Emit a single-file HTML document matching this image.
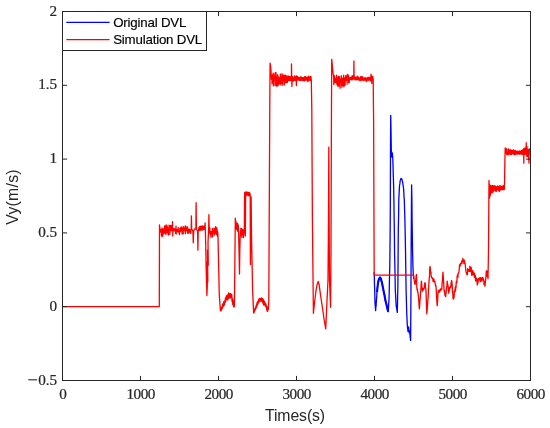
<!DOCTYPE html>
<html><head><meta charset="utf-8"><style>
html,body{margin:0;padding:0;background:#fff;}
body{width:550px;height:428px;overflow:hidden;}
svg{display:block;}
.tk{font-family:"Liberation Serif",serif;font-size:15.2px;letter-spacing:-0.5px;fill:#262626;stroke:#262626;stroke-width:0.22px;}
.lb{font-family:"Liberation Sans",sans-serif;font-size:15.8px;fill:#262626;}
.lg{font-family:"Liberation Sans",sans-serif;font-size:13.3px;letter-spacing:-0.2px;fill:#000;stroke:#000;stroke-width:0.15px;}
</style></head><body>
<svg width="550" height="428" viewBox="0 0 550 428">
<rect width="550" height="428" fill="#fff"/>
<g fill="none" stroke-linejoin="round" stroke-linecap="butt">
<path d="M374.2 272.0L374.5 285.0L374.8 294.0L375.0 303.0L375.3 306.7L375.6 310.6L375.6 310.6L375.8 307.6L376.1 305.7L376.3 302.0L376.5 298.9L376.8 295.6L377.0 292.0L377.2 291.6L377.4 287.6L377.6 285.8L377.8 285.1L378.0 283.0L378.2 281.0L378.4 282.3L378.7 279.6L378.9 279.0L379.1 278.5L379.3 278.2L379.5 279.0L379.7 279.0L379.9 277.5L380.1 278.2L380.4 277.1L380.6 277.8L380.8 278.5L381.0 279.8L381.2 279.1L381.4 281.7L381.6 282.3L381.8 282.0L382.0 282.2L382.2 283.6L382.4 284.2L382.6 286.6L382.8 287.0L383.0 286.7L383.2 289.5L383.4 288.8L383.6 292.0L383.8 292.0L384.0 293.1L384.2 294.2L384.4 293.9L384.6 294.7L384.8 297.0L385.0 297.6L385.2 300.4L385.4 300.3L385.6 302.0L385.8 302.0L386.0 301.6L386.2 302.5L386.4 303.1L386.6 305.8L386.8 306.0L387.0 306.0L387.2 307.1L387.4 309.1L387.6 309.5L387.9 311.1L388.2 311.7L388.2 311.7L388.5 307.6L388.7 303.9L389.0 300.0L389.3 288.1L389.5 276.7L389.8 265.0L390.1 237.4L390.3 210.0L390.5 150.0L390.7 115.3L391.0 130.0L391.3 150.0L391.6 153.4L391.8 157.0L392.1 154.7L392.3 153.0L392.6 155.8L392.8 159.0L393.1 167.4L393.3 175.8L393.6 185.0L393.9 199.8L394.1 215.0L394.4 235.1L394.6 255.0L395.0 272.3L395.3 290.0L395.6 294.9L395.9 301.0L396.2 306.0L396.5 307.6L396.8 309.2L397.0 310.6L397.3 312.4L397.6 299.1L397.9 285.0L398.3 230.0L398.6 215.3L398.8 200.0L399.1 193.1L399.5 186.0L399.9 183.4L400.2 180.5L400.5 180.0L400.7 179.1L401.0 178.4L401.3 178.5L401.5 178.7L401.8 179.0L402.1 180.0L402.3 181.0L402.6 182.0L402.9 184.0L403.2 186.0L403.5 188.0L403.8 192.3L404.0 196.4L404.3 200.0L404.6 209.7L404.9 220.0L405.2 234.5L405.5 250.0L405.8 269.8L406.1 290.0L406.4 300.5L406.7 312.0L407.0 318.8L407.3 325.0L407.6 328.3L408.0 331.3L408.3 328.9L408.6 327.0L408.9 329.7L409.2 333.0L409.5 332.4L409.8 331.0L410.2 337.0L410.6 340.4L410.9 300.0L411.2 240.0L411.6 185.0L411.9 200.0L412.1 220.3L412.4 240.0L412.6 252.7L412.9 265.0L413.3 274.9L413.6 277.1L413.8 279.0" stroke="#0000ff" stroke-width="1.3"/>
<path d="M377.0 292.0L378.0 283.0L378.9 279.0L379.9 277.5L380.8 278.5L381.8 282.0L382.8 287.0L383.8 292.0L384.8 297.0L385.8 302.0L386.8 306.0L387.6 309.5L388.2 311.7" stroke="#0000ff" stroke-width="2.1"/>
<path d="M62.0 306.6L159.3 306.6L159.5 224.8L159.9 229.0L160.0 229.9L160.2 232.2L160.4 229.6L160.6 231.0L160.8 229.3L161.0 230.7L161.2 229.7L161.4 231.1L161.4 235.8L161.5 230.0L161.6 230.0L161.8 232.7L161.8 234.4L161.9 232.2L162.0 232.9L162.0 227.8L162.1 233.4L162.2 235.3L162.1 234.5L162.2 236.6L162.3 234.5L162.4 233.1L162.6 234.4L162.8 232.2L162.8 235.7L162.9 233.0L163.0 233.7L163.2 231.4L163.2 228.8L163.3 232.0L163.4 232.4L163.6 229.3L163.8 231.1L164.0 228.8L164.0 233.7L164.1 229.1L164.2 229.7L164.4 227.6L164.6 229.0L164.6 225.9L164.7 227.9L164.8 226.6L165.0 228.2L165.0 226.0L165.1 227.8L165.2 226.6L165.2 233.0L165.3 227.8L165.4 228.2L165.6 227.2L165.8 228.0L166.0 227.0L166.0 234.5L166.1 227.5L166.2 228.2L166.1 227.6L166.2 225.0L166.3 227.6L166.4 227.3L166.6 229.2L166.8 227.9L167.0 229.0L167.0 232.7L167.1 228.5L167.2 228.1L167.2 225.8L167.3 228.7L167.4 229.3L167.6 228.3L167.8 230.2L168.0 228.2L168.2 229.5L168.2 234.6L168.3 229.1L168.4 228.6L168.4 235.0L168.5 229.1L168.6 229.6L168.8 228.1L169.0 230.0L169.0 225.1L169.1 229.3L169.2 228.9L169.4 229.9L169.6 228.6L169.6 225.6L169.7 229.4L169.8 229.8L169.8 234.6L169.9 229.5L170.0 228.7L170.0 232.6L170.1 229.5L170.2 229.8L170.2 227.2L170.3 229.6L170.4 229.2L170.6 230.4L170.6 225.3L170.7 229.6L170.8 228.5L171.0 230.6L171.2 229.4L171.2 225.3L171.3 229.8L171.4 230.7L171.6 229.5L171.8 230.5L172.0 229.3L172.2 230.1L172.4 228.9L172.4 229.8L172.5 221.6L172.6 229.8L172.6 230.7L172.8 228.8L172.7 229.8L172.8 236.0L172.9 229.8L173.0 230.4L173.2 228.7L173.4 230.4L173.6 228.7L173.8 230.6L174.0 229.0L174.2 230.1L174.4 228.7L174.6 230.8L174.8 229.0L175.0 230.6L175.2 229.7L175.4 230.3L175.6 229.4L175.6 233.6L175.7 230.1L175.8 231.0L176.0 229.7L176.0 226.0L176.1 230.2L175.9 230.2L176.0 226.2L176.1 230.2L176.2 230.7L176.2 234.0L176.3 230.3L176.4 229.7L176.6 230.9L176.8 230.0L177.0 231.4L177.2 229.4L177.4 231.4L177.6 230.3L177.8 231.8L178.0 230.0L178.2 231.4L178.2 227.5L178.3 230.9L178.4 230.6L178.6 231.9L178.8 230.7L179.0 232.4L179.2 231.1L179.2 233.3L179.3 231.4L179.4 232.3L179.4 231.5L179.5 234.5L179.6 231.5L179.6 230.9L179.8 231.4L179.8 228.5L179.9 231.2L180.0 230.0L180.0 228.3L180.1 231.0L180.2 231.5L180.4 229.7L180.6 231.3L180.8 229.2L180.8 227.4L180.9 230.1L181.0 230.1L181.2 228.8L181.2 226.8L181.3 229.7L181.4 230.3L181.6 228.4L181.8 229.6L182.0 227.9L182.0 233.8L182.1 229.0L182.2 229.3L182.4 228.2L182.6 229.6L182.8 228.0L183.0 230.1L183.2 228.2L183.2 234.1L183.3 229.0L183.1 229.0L183.2 226.5L183.3 229.0L183.4 229.8L183.6 228.6L183.8 230.1L184.0 228.3L184.2 229.5L184.4 228.0L184.6 229.4L184.8 228.4L185.0 229.8L185.0 231.8L185.1 229.2L185.2 228.3L185.2 225.8L185.3 229.2L185.4 229.6L185.4 233.8L185.5 229.3L185.6 228.3L185.8 230.4L186.0 228.3L186.0 226.3L186.1 229.4L186.2 229.9L186.4 228.7L186.6 230.5L186.8 229.1L187.0 230.6L187.2 229.3L187.4 230.8L187.4 229.7L187.5 227.0L187.6 229.7L187.6 229.0L187.6 233.3L187.7 229.8L187.8 230.6L187.8 233.3L187.9 229.8L188.0 229.3L188.2 230.6L188.4 229.1L188.4 233.1L188.5 229.9L188.6 231.0L188.8 229.5L189.0 230.3L189.2 229.1L189.4 230.7L189.6 229.7L189.8 231.2L189.8 232.3L189.9 230.1L190.0 229.8L190.0 233.0L190.1 230.2L190.2 230.7L190.4 229.9L190.6 230.6L190.8 229.9L190.8 233.3L190.9 230.3L191.2 230.0L191.4 216.0L191.7 229.0L192.9 231.0L193.3 242.8L193.7 231.0L194.7 228.8L195.9 229.0L196.1 202.6L196.4 229.0L197.6 231.0L197.9 250.0L198.2 231.0L198.8 229.0L199.0 227.4L199.2 230.3L199.4 227.6L199.6 230.3L199.8 226.5L200.0 230.5L200.2 230.3L200.4 229.6L200.6 226.2L200.8 226.7L201.0 227.1L201.2 229.4L201.4 226.1L201.6 230.0L201.8 226.7L202.0 228.8L202.2 230.1L202.4 228.9L202.6 226.0L202.8 229.6L203.0 226.9L203.2 228.5L203.4 226.1L203.6 228.5L203.8 229.5L204.0 229.4L204.2 227.1L204.4 228.9L204.6 225.8L204.8 228.3L205.1 223.0L205.3 229.0L205.6 240.0L206.2 270.0L206.9 295.5L207.3 285.0L207.0 262.0L207.8 282.0L207.5 250.0L208.3 265.0L208.0 242.7L208.7 228.0L208.9 214.7L209.2 228.0L209.4 230.6L209.6 233.2L209.7 227.5L209.7 231.5L209.8 230.9L209.8 228.1L209.9 231.9L210.0 232.8L210.2 231.1L210.4 235.0L210.6 232.4L210.8 234.6L211.0 231.6L211.0 237.5L211.1 233.3L211.2 234.9L211.4 232.2L211.6 234.9L211.8 231.4L212.0 234.0L212.2 232.3L212.4 233.8L212.4 228.5L212.5 232.6L212.6 231.0L212.6 236.9L212.7 232.4L212.8 233.1L213.0 230.7L213.2 232.8L213.4 230.2L213.6 233.0L213.8 230.8L214.0 232.6L214.0 228.2L214.1 231.0L214.2 230.1L214.4 231.2L214.4 235.2L214.5 230.6L214.6 229.2L214.8 231.5L215.0 228.6L215.2 230.3L215.4 228.0L215.4 233.5L215.5 229.6L215.6 230.7L215.6 226.6L215.7 229.5L215.8 229.0L216.0 230.6L216.2 228.1L216.4 230.4L216.6 228.4L216.6 234.5L216.7 229.7L216.8 230.6L216.8 227.6L216.9 230.2L217.0 229.0L217.2 232.9L217.4 231.1L217.6 233.9L217.6 236.4L217.7 232.0L218.0 236.0L218.5 260.0L219.3 295.0L220.4 310.8L220.6 310.1L220.8 310.9L221.0 310.8L221.2 310.5L221.4 307.7L221.6 309.1L221.8 306.8L222.0 308.7L222.2 305.9L222.4 308.2L222.6 304.1L222.8 306.9L223.0 304.3L223.2 305.5L223.4 303.1L223.6 306.1L223.8 301.7L224.0 305.4L224.2 305.1L224.4 304.9L224.6 301.3L224.8 303.0L225.0 300.4L225.2 301.3L225.4 298.1L225.6 301.9L225.8 297.8L226.0 300.3L226.2 296.1L226.4 299.2L226.6 295.8L226.8 299.5L227.0 295.1L227.2 296.4L227.4 295.2L227.6 299.9L227.8 295.2L228.0 299.3L228.2 295.4L228.4 297.7L228.6 292.9L228.8 296.7L229.0 294.8L229.2 298.0L229.4 294.1L229.6 296.9L229.8 293.7L230.0 297.8L230.2 298.0L230.4 293.7L230.6 293.7L230.8 293.7L231.0 294.1L231.2 297.7L231.4 294.7L231.6 297.2L231.8 294.7L232.0 301.2L232.2 297.9L232.4 302.2L232.6 302.0L232.8 304.6L233.0 299.6L233.2 304.0L233.4 301.3L233.6 306.6L233.8 303.5L234.0 307.1L234.4 306.0L234.9 260.0L235.3 218.2L235.7 222.0L235.9 221.3L236.1 228.9L236.3 223.4L236.5 229.1L236.7 223.3L236.9 229.8L237.1 224.2L237.3 230.1L237.5 223.2L237.7 231.3L237.9 224.3L238.1 231.1L238.3 225.5L238.7 236.0L239.0 250.0L239.5 274.0L239.8 250.0L240.2 236.0L240.4 231.0L240.6 235.0L240.8 231.1L240.8 228.4L240.9 232.1L241.0 235.1L241.0 228.6L241.1 232.2L241.2 230.1L241.4 233.3L241.4 228.3L241.5 232.3L241.6 229.6L241.6 228.8L241.7 232.4L241.8 233.6L241.8 237.3L241.9 232.4L242.0 231.4L242.0 228.9L242.1 232.5L242.2 235.0L242.4 230.7L242.6 234.4L242.8 230.0L243.0 234.2L243.2 229.9L243.4 234.0L243.4 237.7L243.5 232.8L243.6 231.4L243.8 234.8L244.0 230.0L244.3 232.0L244.5 200.0L244.7 192.5L245.0 225.0L245.3 236.0L245.6 200.0L245.8 192.0L246.0 192.6L246.2 194.9L246.4 191.9L246.6 195.1L246.8 192.8L247.0 193.8L247.2 192.9L247.4 195.1L247.6 192.2L247.8 195.1L248.0 193.1L248.2 195.4L248.4 192.8L248.6 195.8L248.8 192.4L249.0 195.6L249.2 192.4L249.4 195.7L249.6 192.9L249.8 193.6L250.0 193.3L250.2 196.0L250.4 264.5L250.7 230.0L251.1 197.0L251.6 240.0L252.6 290.0L253.6 312.9L253.8 311.7L254.0 312.8L254.2 310.3L254.4 311.6L254.6 310.8L254.8 310.2L255.0 308.1L255.2 310.0L255.4 309.5L255.6 308.6L255.8 306.6L256.0 308.3L256.2 305.5L256.4 307.5L256.6 304.7L256.8 305.2L257.0 302.7L257.2 305.7L257.4 302.6L257.6 304.4L257.8 301.5L258.0 303.7L258.2 300.8L258.4 301.9L258.6 299.6L258.8 302.7L259.0 298.8L259.2 299.4L259.4 298.5L259.6 299.8L259.8 300.4L260.0 301.0L260.2 298.7L260.4 300.6L260.6 298.9L260.8 301.3L261.0 298.1L261.2 300.2L261.4 298.9L261.6 301.1L261.8 298.0L262.0 299.1L262.2 298.3L262.4 301.8L262.6 300.0L262.8 303.1L263.0 299.2L263.2 303.2L263.4 299.7L263.6 304.6L263.8 301.1L264.0 305.2L264.2 301.1L264.4 302.4L264.6 301.5L264.8 302.5L265.0 302.8L265.2 305.0L265.4 305.5L265.6 306.3L265.8 304.0L266.0 304.1L266.2 306.0L266.4 308.1L266.6 306.3L266.8 309.9L267.0 307.4L267.2 311.3L267.4 307.4L267.6 311.3L267.8 307.3L268.0 310.0L268.2 308.0L268.4 309.3L268.8 300.0L269.3 200.0L269.8 100.0L270.1 63.2L270.6 66.0L270.9 70.0L271.2 75.2L271.4 79.3L271.6 75.1L271.8 79.1L272.0 75.9L272.0 83.7L272.1 77.4L272.2 80.0L272.4 75.0L272.4 82.5L272.5 77.6L272.6 78.6L272.8 75.9L273.0 78.6L273.2 76.1L273.2 73.1L273.3 77.9L273.4 79.2L273.4 85.8L273.5 78.0L273.6 76.0L273.8 79.8L274.0 77.2L274.2 80.3L274.4 77.7L274.6 79.4L274.8 76.1L274.8 73.9L274.9 78.7L275.0 80.0L275.0 85.5L275.1 78.8L275.2 77.5L275.4 80.5L275.4 72.4L275.5 78.8L275.6 77.7L275.8 81.1L276.0 77.5L276.0 72.7L276.1 78.8L276.2 81.0L276.2 83.9L276.3 78.8L276.4 77.5L276.4 86.1L276.5 78.9L276.6 79.7L276.8 78.0L277.0 79.4L277.0 83.8L277.1 78.9L277.2 76.7L277.4 80.7L277.4 85.9L277.5 78.9L277.6 77.6L277.6 74.8L277.7 78.9L277.8 80.7L277.8 75.0L277.9 78.9L278.0 77.2L278.2 80.1L278.4 76.8L278.6 79.8L278.6 85.0L278.7 78.9L278.8 78.0L279.0 79.6L279.2 77.7L279.4 80.4L279.4 83.7L279.5 79.0L279.6 78.1L279.8 79.6L279.8 83.5L279.9 79.0L280.0 78.1L280.2 79.8L280.4 76.8L280.4 74.1L280.5 79.0L280.6 80.1L280.8 77.7L280.8 84.9L280.9 79.0L281.0 80.1L281.2 77.2L281.4 80.3L281.6 77.4L281.8 81.1L281.8 83.3L281.9 79.0L282.0 77.5L282.0 73.7L282.1 79.0L282.2 80.8L282.4 78.2L282.6 79.8L282.8 77.7L282.8 85.3L282.9 79.0L283.0 80.4L283.2 78.3L283.2 74.8L283.3 79.0L283.4 80.2L283.6 78.1L283.8 79.5L284.0 77.6L284.2 80.7L284.2 75.5L284.3 79.0L284.4 78.5L284.4 84.8L284.5 79.0L284.6 79.8L284.8 78.4L285.0 79.7L285.0 75.1L285.1 79.0L285.2 77.2L285.4 79.5L285.6 78.0L285.6 82.6L285.7 79.0L285.8 80.2L286.0 77.0L286.0 75.3L286.1 79.0L286.2 79.5L286.2 82.5L286.3 79.0L286.4 78.0L286.4 76.3L286.5 79.0L286.6 79.4L286.8 77.4L287.0 79.7L287.0 82.1L287.1 79.0L287.2 77.9L287.4 79.9L287.4 82.5L287.5 78.9L287.6 78.5L287.8 80.3L287.8 75.8L287.9 78.9L288.0 77.3L288.2 80.6L288.4 78.0L288.6 79.8L288.8 78.2L288.8 76.2L288.9 78.9L289.0 79.5L289.0 76.3L289.1 78.9L289.2 78.1L289.4 80.6L289.6 77.3L289.6 76.7L289.7 78.9L289.8 80.1L290.0 78.1L290.0 76.7L290.1 78.8L290.2 79.7L290.4 77.5L290.4 76.8L290.5 78.8L290.6 80.4L290.8 77.5L291.0 80.3L291.0 76.7L291.1 78.8L291.2 78.4L291.4 78.0L291.5 63.9L291.7 78.0L291.9 86.5L292.2 79.0L292.4 77.9L292.6 79.8L292.6 76.4L292.7 78.7L292.8 78.3L292.8 80.8L292.9 78.7L293.0 79.5L293.2 77.6L293.2 81.0L293.3 78.7L293.4 80.1L293.6 78.2L293.8 79.5L294.0 77.9L294.2 80.3L294.4 78.0L294.6 79.4L294.6 75.9L294.7 78.8L294.8 77.7L295.0 80.4L295.2 77.5L295.4 79.4L295.6 77.5L295.8 80.3L296.0 77.6L296.0 76.1L296.1 78.8L296.2 79.2L296.4 78.0L296.3 78.8L296.4 85.5L296.5 78.8L296.6 79.5L296.6 76.0L296.7 78.8L296.8 78.2L297.0 79.5L297.0 76.3L297.1 78.8L297.2 78.3L297.4 80.1L297.6 77.5L297.6 76.5L297.7 78.8L297.8 79.3L298.0 78.4L298.2 80.0L298.4 78.1L298.6 79.2L298.8 77.3L299.0 79.6L299.2 78.3L299.4 80.1L299.6 78.1L299.8 80.5L300.0 77.7L300.2 79.8L300.4 78.2L300.6 80.4L300.8 77.3L300.8 76.6L300.9 78.9L301.0 79.6L301.2 77.2L301.2 76.8L301.3 78.9L301.4 80.1L301.6 78.5L301.8 79.7L302.0 77.8L302.2 79.9L302.4 77.7L302.6 80.5L302.8 78.0L303.0 79.6L303.2 77.5L303.4 80.5L303.6 78.2L303.8 79.8L304.0 77.9L304.2 80.1L304.4 78.1L304.6 79.6L304.6 80.9L304.7 78.8L304.8 78.3L304.8 76.5L304.9 78.8L305.0 79.3L305.2 77.4L305.4 79.3L305.6 77.2L305.6 76.6L305.7 78.7L305.8 80.2L306.0 77.4L306.2 80.0L306.4 77.9L306.6 80.2L306.8 77.6L307.0 80.0L307.2 77.2L307.4 79.2L307.6 77.4L307.8 79.3L307.8 81.5L307.9 78.7L308.0 77.0L308.0 81.1L308.1 78.7L308.2 79.9L308.4 77.1L308.6 79.1L308.8 78.2L308.8 76.1L308.9 78.7L309.0 80.3L309.0 76.6L309.1 78.7L309.2 77.6L309.4 79.5L309.6 77.2L309.8 79.4L310.0 77.4L310.2 80.3L310.4 77.3L310.6 80.0L310.6 76.5L310.7 78.6L310.8 77.0L311.0 79.6L311.0 76.6L311.1 78.6L311.3 80.0L311.8 110.0L312.4 220.0L313.4 313.3L314.5 303.0L315.8 292.0L317.0 285.0L318.2 281.4L319.2 285.0L320.5 295.0L322.5 308.0L324.2 320.0L325.7 328.8L326.8 305.0L328.0 280.0L328.5 220.0L328.8 147.1L329.0 200.0L329.5 280.0L330.6 307.3L331.0 250.0L331.3 150.0L331.7 59.3L332.1 63.0L332.6 69.0L333.2 74.5L333.7 77.4L333.8 84.6L333.8 79.5L333.9 80.8L334.1 78.0L334.1 75.7L334.2 79.6L334.3 82.5L334.3 75.6L334.4 79.6L334.5 77.9L334.7 80.9L334.9 78.0L335.1 82.4L335.3 79.1L335.5 82.1L335.7 78.7L335.9 82.7L336.1 78.4L336.3 82.4L336.3 76.1L336.4 80.1L336.5 79.3L336.5 75.1L336.6 80.2L336.7 81.5L336.9 79.6L336.9 84.6L337.0 80.2L337.1 82.1L337.3 78.0L337.5 81.9L337.7 78.0L337.9 83.2L337.9 86.3L338.0 80.5L338.1 78.4L338.1 85.0L338.2 80.5L338.3 82.3L338.3 76.1L338.4 80.5L338.5 78.5L338.7 81.8L338.9 79.1L338.9 86.1L339.0 80.4L339.1 81.1L339.1 85.6L339.2 80.4L339.3 78.3L339.5 82.3L339.5 76.6L339.6 80.4L339.7 79.1L339.9 80.9L340.1 79.0L340.1 88.2L340.2 80.3L340.3 81.2L340.5 79.1L340.7 81.0L340.9 78.9L341.1 81.2L341.3 78.3L341.3 75.7L341.4 80.2L341.5 82.6L341.5 76.3L341.6 80.2L341.7 77.7L341.7 85.5L341.8 80.2L341.9 81.9L341.9 87.3L342.0 80.2L342.1 78.0L342.3 81.6L342.5 79.4L342.7 81.9L342.9 78.3L343.1 81.3L343.1 85.7L343.2 80.1L343.3 78.6L343.3 85.2L343.4 80.1L343.5 81.6L343.7 77.8L343.7 75.2L343.8 80.0L343.9 81.8L343.9 86.7L344.0 80.0L344.1 78.8L344.3 80.6L344.5 78.5L344.5 85.4L344.6 79.9L344.7 81.9L344.9 77.9L345.1 81.9L345.1 85.2L345.2 79.7L345.3 78.7L345.5 80.8L345.7 77.6L345.7 75.6L345.8 79.5L345.9 80.0L346.1 77.6L346.3 80.1L346.5 77.4L346.7 80.5L346.9 77.4L346.9 76.1L347.0 79.1L347.1 79.5L347.1 84.2L347.2 79.1L347.3 78.4L347.3 74.5L347.4 79.0L347.5 80.4L347.7 78.4L347.9 79.6L348.1 77.0L348.3 79.5L348.5 77.7L348.5 75.1L348.6 78.7L348.7 80.1L348.7 82.9L348.8 78.7L348.9 78.0L348.9 82.3L349.0 78.7L349.1 79.3L349.1 82.5L349.2 78.7L349.3 77.7L349.3 82.5L349.4 78.7L349.5 80.2L349.7 77.8L349.9 79.2L350.1 77.6L350.3 79.5L350.5 77.4L350.7 79.4L350.9 77.8L351.1 79.3L351.3 77.7L351.5 79.8L351.7 76.7L351.9 79.8L352.1 77.4L352.1 75.8L352.2 78.4L352.3 79.3L352.5 77.6L352.7 79.6L352.7 75.9L352.8 78.3L352.9 76.7L352.9 75.7L353.0 78.3L353.1 79.7L353.3 77.1L353.5 78.7L353.8 78.0L353.9 61.0L354.1 78.0L354.4 77.8L354.6 79.0L354.8 77.1L355.0 79.7L355.2 77.9L355.4 79.2L355.6 77.4L355.8 79.5L356.0 76.8L356.2 79.9L356.4 77.0L356.6 79.6L356.8 78.0L357.0 79.2L357.2 77.8L357.4 79.0L357.6 77.9L357.8 79.7L357.8 76.1L357.9 78.4L358.0 77.3L358.2 79.1L358.4 77.2L358.6 79.0L358.8 78.2L359.0 80.1L359.2 78.2L359.4 79.6L359.6 78.1L359.8 79.3L360.0 78.1L360.2 79.1L360.2 80.7L360.3 78.6L360.4 77.3L360.6 79.5L360.6 76.7L360.7 78.7L360.8 77.7L361.0 80.1L361.0 80.7L361.1 78.7L361.2 77.2L361.4 79.6L361.6 77.4L361.8 79.7L361.8 76.7L361.9 78.8L362.0 77.6L362.2 79.4L362.4 78.6L362.4 76.7L362.5 78.9L362.6 80.1L362.8 78.6L363.0 79.4L363.2 78.6L363.4 79.8L363.6 77.9L363.8 80.6L364.0 78.2L364.2 80.0L364.4 77.9L364.6 80.0L364.8 78.3L365.0 80.1L365.2 78.9L365.4 79.7L365.6 78.3L365.8 80.0L365.8 77.5L365.9 79.4L366.0 78.5L366.2 80.6L366.4 79.0L366.6 80.8L366.6 81.6L366.7 79.3L366.8 78.5L367.0 80.0L367.2 78.1L367.4 79.8L367.6 78.1L367.8 79.4L367.8 77.4L367.9 79.0L368.0 77.7L368.2 80.4L368.4 78.2L368.6 79.3L368.8 77.5L369.0 79.5L369.2 77.4L369.4 79.1L369.6 78.3L369.8 79.7L370.0 77.5L370.0 80.9L370.1 78.6L370.2 79.7L370.2 80.7L370.3 78.6L370.4 77.4L370.6 80.1L370.6 80.7L370.7 78.6L370.8 77.3L371.0 79.5L370.9 78.6L371.0 74.2L371.1 78.6L371.2 78.1L371.4 79.9L371.4 76.2L371.5 78.6L371.6 77.4L371.8 79.1L371.8 76.0L371.9 78.6L371.7 78.6L371.8 83.5L371.9 78.6L372.0 77.6L372.2 79.2L372.4 77.6L372.6 79.1L372.8 77.7L372.8 76.3L372.9 78.6L373.2 79.0L373.6 120.0L373.9 200.0L374.2 275.1L413.6 275.1L413.6 275.1L414.0 278.6L414.3 280.7L414.6 283.1L414.8 282.9L415.1 284.4L415.4 283.1L415.7 280.0L415.9 279.5L416.2 275.0L416.5 274.5L416.8 287.6L417.1 289.8L417.3 289.0L417.6 291.9L417.8 291.7L418.1 294.2L418.4 296.6L418.6 298.8L418.9 302.4L419.1 306.3L419.4 308.9L419.7 305.3L419.9 301.1L420.2 298.2L420.5 294.2L420.8 291.1L421.1 284.9L421.4 281.1L421.7 284.2L421.9 286.5L422.2 289.3L422.5 291.1L422.7 288.6L423.0 290.1L423.3 288.3L423.5 288.4L423.8 289.3L424.1 288.5L424.4 286.3L424.7 283.4L425.0 282.7L425.2 283.1L425.5 288.0L425.8 288.4L426.0 290.9L426.3 299.4L426.5 305.9L426.8 313.8L427.1 310.6L427.4 306.7L427.6 304.6L427.9 299.1L428.2 296.7L428.4 291.1L428.7 287.3L428.9 282.4L429.2 279.5L429.5 276.1L429.7 269.3L430.0 266.4L430.3 268.1L430.6 272.6L430.9 272.0L431.2 276.2L431.5 277.5L431.7 277.6L432.0 278.0L432.3 277.8L432.5 277.6L432.8 279.5L433.1 281.5L433.4 281.0L433.6 281.5L433.9 279.0L434.2 281.9L434.5 281.1L434.8 281.1L435.0 282.1L435.3 284.5L435.6 285.9L435.8 285.1L436.1 287.6L436.4 293.1L436.6 296.9L436.9 302.6L437.2 305.6L437.4 303.5L437.7 299.0L437.9 294.1L438.2 290.9L438.4 292.6L438.7 291.7L438.9 290.1L439.2 292.3L439.4 291.8L439.7 290.0L439.9 289.9L440.2 290.9L440.5 288.8L440.7 290.5L441.0 289.2L441.3 289.0L441.5 288.6L441.8 289.3L442.1 283.6L442.4 280.6L442.7 275.5L443.0 272.1L443.2 275.6L443.5 279.9L443.8 285.0L444.0 289.3L444.3 291.9L444.5 290.4L444.8 294.3L445.1 295.5L445.3 295.8L445.6 296.6L445.6 296.6L445.9 294.3L446.1 292.8L446.4 289.1L446.7 287.2L446.9 286.2L447.2 281.1L447.5 285.2L447.8 284.6L448.1 285.8L448.4 290.9L448.7 293.1L448.9 289.3L449.2 291.4L449.5 287.7L449.7 288.6L450.0 288.5L450.3 286.4L450.5 287.1L450.8 287.1L451.1 283.1L451.3 282.1L451.6 280.3L451.9 282.5L452.2 285.0L452.5 292.4L452.7 290.5L453.0 298.6L453.3 299.1L453.6 298.7L453.8 293.8L454.1 297.4L454.4 291.2L454.6 292.7L454.9 290.9L455.2 287.3L455.5 291.1L455.8 285.7L456.0 287.7L456.3 281.4L456.6 282.7L456.9 282.1L457.1 276.8L457.4 275.0L457.7 276.6L457.9 277.4L458.2 272.9L458.5 272.9L458.7 272.9L459.0 271.4L459.3 268.7L459.5 264.9L459.8 266.4L460.1 266.0L460.4 263.4L460.6 264.9L460.9 263.3L461.2 263.6L461.5 263.1L461.8 260.9L462.0 263.5L462.3 261.4L462.6 261.4L462.8 258.5L463.1 260.5L463.3 260.6L463.6 259.8L463.9 263.5L464.1 261.8L464.4 260.1L464.7 261.9L464.9 262.9L465.2 264.7L465.5 267.3L465.8 270.1L466.0 271.7L466.3 272.9L466.6 274.1L466.9 272.9L467.2 274.6L467.4 274.6L467.7 268.6L468.0 271.0L468.3 271.1L468.5 271.2L468.8 269.6L469.1 270.0L469.4 269.7L469.6 271.4L469.9 266.1L470.2 268.4L470.5 268.0L470.8 271.7L471.0 267.1L471.3 268.5L471.6 274.0L471.8 275.5L472.1 273.7L472.4 270.6L472.6 270.4L472.9 274.9L473.2 273.8L473.4 272.5L473.7 272.1L474.0 273.7L474.2 275.9L474.5 277.4L474.7 273.7L475.0 277.8L475.3 275.3L475.5 279.8L475.8 281.1L476.1 280.3L476.3 277.9L476.6 278.6L477.0 280.8L477.3 285.0L477.6 282.8L477.8 279.5L478.1 282.8L478.3 278.5L478.6 278.6L478.9 279.2L479.1 279.0L479.4 278.0L479.6 280.1L479.9 278.9L480.1 277.7L480.4 281.7L480.6 277.6L480.9 277.6L481.1 279.8L481.4 278.1L481.6 279.3L481.9 281.0L482.2 278.1L482.5 277.4L482.7 279.7L483.0 278.6L483.2 278.1L483.5 280.7L483.8 280.0L484.0 284.7L484.2 281.5L484.5 282.8L484.8 284.1L485.0 286.3L485.3 282.2L485.5 281.5L485.8 278.0L486.0 275.6L486.3 270.8L486.6 272.3L486.9 270.9L487.1 276.3L487.4 274.5L487.7 275.6L488.0 278.6L488.5 250.0L489.0 180.5L489.3 190.0L489.6 198.0L489.9 185.0L490.1 188.8L490.3 195.5L490.5 187.1L490.7 188.2L490.9 185.6L491.1 191.7L491.3 185.9L491.5 193.0L491.7 186.6L491.9 186.3L492.1 192.6L492.3 192.6L492.5 185.5L492.7 186.7L492.9 187.7L493.1 192.1L493.3 185.6L493.5 190.7L493.7 186.0L493.9 190.1L494.1 187.9L494.3 189.9L494.5 186.6L494.7 188.8L494.9 185.6L495.1 189.7L495.3 191.0L495.5 190.2L495.7 186.8L495.9 191.1L496.1 186.5L496.3 190.9L496.5 191.2L496.7 187.7L496.9 187.4L497.1 189.5L497.3 187.0L497.5 188.3L497.7 185.9L497.9 189.6L498.1 186.8L498.3 189.8L498.5 186.6L498.7 190.8L498.9 189.0L499.1 190.3L499.3 186.5L499.5 191.4L499.7 190.8L499.9 189.5L500.1 185.3L500.3 189.5L500.5 187.0L500.7 187.0L500.9 187.3L501.1 189.7L501.3 188.3L501.5 189.6L501.7 186.4L501.9 189.9L502.1 186.5L502.3 189.7L502.5 186.9L502.7 189.5L502.9 185.9L503.1 186.8L503.3 185.7L503.5 189.5L503.7 185.7L503.9 189.6L504.1 185.9L504.3 189.4L504.6 180.0L504.9 160.0L505.2 148.0L505.4 153.9L505.6 153.1L505.8 148.9L506.0 149.7L506.2 148.9L506.4 148.7L506.6 149.6L506.8 154.5L507.0 152.7L507.2 152.9L507.4 154.1L507.6 153.4L507.8 154.7L508.0 154.0L508.2 149.2L508.4 153.4L508.6 149.0L508.8 154.6L509.0 149.8L509.2 153.3L509.4 150.1L509.6 152.8L509.8 149.8L510.0 153.1L510.2 149.6L510.4 154.4L510.6 150.6L510.8 154.5L511.0 151.0L511.2 153.3L511.4 150.2L511.6 154.4L511.8 150.4L512.0 153.3L512.2 150.3L512.4 153.5L512.6 151.3L512.8 152.9L513.0 150.8L513.2 153.5L513.4 149.9L513.6 153.9L513.8 150.4L514.0 154.4L514.2 151.3L514.4 154.8L514.6 150.4L514.8 153.4L515.0 151.4L515.2 154.3L515.4 150.7L515.6 154.3L515.8 151.2L516.0 154.2L516.2 151.9L516.4 153.6L516.6 151.3L516.8 153.8L517.0 151.0L517.2 154.1L517.4 151.2L517.6 154.1L517.8 152.0L518.0 153.2L518.2 151.6L518.4 153.9L518.6 151.4L518.8 151.2L519.0 151.6L519.2 154.2L519.4 151.4L519.6 154.2L519.8 150.9L520.0 153.6L520.2 151.3L520.4 153.4L520.6 151.3L520.8 154.0L521.0 152.2L521.2 154.2L521.4 150.7L521.6 153.8L521.8 151.3L522.0 154.2L522.2 150.4L522.4 153.8L522.6 149.9L522.8 154.5L523.0 149.6L523.2 150.3L523.4 149.4L523.6 149.6L523.7 151.5L523.8 163.2L523.9 151.5L523.8 148.3L524.0 153.8L524.2 149.2L524.4 153.1L524.6 148.3L524.8 154.3L525.0 147.8L525.2 154.5L525.4 148.6L525.6 153.9L525.8 147.7L526.0 152.4L526.1 150.9L526.2 142.7L526.3 150.9L526.2 150.3L526.4 153.2L526.6 148.2L526.8 156.6L527.0 146.6L527.2 156.3L527.4 149.2L527.6 150.8L527.8 149.6L528.0 156.4L528.2 149.4L528.4 154.9L528.5 152.7L528.6 160.0L528.7 152.7L528.6 149.9L528.8 154.9L528.9 152.7L529.0 163.2L529.1 152.7L529.0 155.1L529.2 155.1L529.4 148.9L529.6 150.0L529.8 149.2L530.0 150.3" stroke="#ff0000" stroke-width="1.3"/>
</g>
<g fill="none" stroke="#262626" stroke-width="1">
<path d="M140.5 380.5V375.9M140.5 11.5V16.1M218.5 380.5V375.9M218.5 11.5V16.1M296.5 380.5V375.9M296.5 11.5V16.1M374.5 380.5V375.9M374.5 11.5V16.1M452.5 380.5V375.9M452.5 11.5V16.1M62.5 306.7H67.1M530.5 306.7H525.9M62.5 232.9H67.1M530.5 232.9H525.9M62.5 159.1H67.1M530.5 159.1H525.9M62.5 85.3H67.1M530.5 85.3H525.9"/>
<rect x="62.5" y="11.5" width="468.0" height="369.0"/>
</g>
<g class="tk"><text x="62.7" y="399" text-anchor="middle">0</text><text x="140.7" y="399" text-anchor="middle">1000</text><text x="218.7" y="399" text-anchor="middle">2000</text><text x="296.7" y="399" text-anchor="middle">3000</text><text x="374.7" y="399" text-anchor="middle">4000</text><text x="452.7" y="399" text-anchor="middle">5000</text><text x="530.7" y="399" text-anchor="middle">6000</text><text x="57.2" y="384.6" text-anchor="end" letter-spacing="0">0.5</text><text x="57.2" y="310.8" text-anchor="end" letter-spacing="0">0</text><text x="57.2" y="237.0" text-anchor="end" letter-spacing="0">0.5</text><text x="57.2" y="163.2" text-anchor="end" letter-spacing="0">1</text><text x="57.2" y="89.4" text-anchor="end" letter-spacing="0">1.5</text><text x="57.2" y="15.6" text-anchor="end" letter-spacing="0">2</text><text x="27.6" y="385.4" transform="translate(27.6 0) scale(1.18 1) translate(-27.6 0)">−</text></g>
<text class="lb" x="295" y="420.5" text-anchor="middle" letter-spacing="-0.1">Times(s)</text>
<text class="lb" transform="translate(18.2,197) rotate(-90)" text-anchor="middle" letter-spacing="0.25">Vy(m/s)</text>
<rect x="62.5" y="11.5" width="144" height="39" fill="#fff" stroke="#262626" stroke-width="1"/>
<path d="M66.3 22.3H109.6" stroke="#0000ff" stroke-width="1.3"/>
<path d="M66.3 39.7H109.6" stroke="#ff0000" stroke-width="1.3"/>
<text class="lg" x="113.2" y="27.4">Original DVL</text>
<text class="lg" x="113.2" y="44.4">Simulation DVL</text>
</svg>
</body></html>
